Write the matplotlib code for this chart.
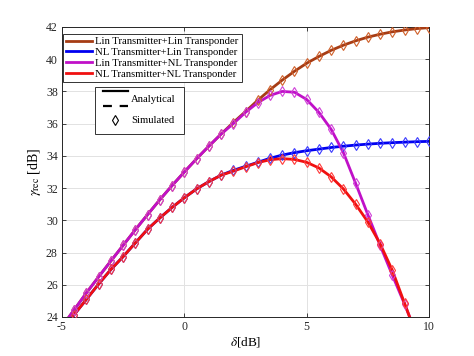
import numpy as np
import matplotlib
matplotlib.use("Agg")
import matplotlib.pyplot as plt
from matplotlib.lines import Line2D
from matplotlib.legend_handler import HandlerBase

plt.rcParams['font.family'] = ['Liberation Serif', 'DejaVu Serif']
plt.rcParams['mathtext.fontset'] = 'stix'
plt.rcParams['axes.unicode_minus'] = False

# delta [dB]
delta_db = [-5, -4.5, -4, -3.5, -3, -2.5, -2, -1.5, -1, -0.5,
            0, 0.5, 1, 1.5, 2, 2.5, 3, 3.5, 4, 4.5,
            5, 5.5, 6, 6.5, 7, 7.5, 8, 8.5, 9, 9.5, 10]

# gamma_rec [dB]
lin_lin = [23.4, 24.45, 25.5, 26.5, 27.48, 28.45, 29.42, 30.36, 31.28, 32.16,
           33.0, 33.82, 34.6, 35.35, 36.07, 36.75, 37.45, 38.1, 38.7, 39.25,
           39.75, 40.17, 40.55, 40.87, 41.14, 41.37, 41.55, 41.7, 41.81, 41.9, 41.96]
nl_lin = [23.15, 24.15, 25.1, 26.05, 26.95, 27.75, 28.6, 29.45, 30.15, 30.8,
          31.4, 31.95, 32.4, 32.8, 33.1, 33.35, 33.6, 33.85, 34.05, 34.2,
          34.32, 34.42, 34.52, 34.6, 34.67, 34.73, 34.78, 34.82, 34.85, 34.88, 34.9]
lin_nl = [23.4, 24.45, 25.5, 26.5, 27.48, 28.45, 29.42, 30.36, 31.28, 32.16,
          33.0, 33.82, 34.6, 35.35, 36.0, 36.7, 37.3, 37.75, 38.0, 37.95,
          37.5, 36.7, 35.65, 34.2, 32.3, 30.35, 28.45, 26.6, 24.8, 22.9, 21.0]
nl_nl = [23.15, 24.15, 25.1, 26.05, 26.95, 27.75, 28.6, 29.45, 30.15, 30.8,
         31.4, 31.95, 32.4, 32.8, 33.05, 33.32, 33.58, 33.76, 33.83, 33.78,
         33.6, 33.25, 32.7, 31.95, 31.0, 29.9, 28.55, 26.9, 24.85, 22.8, 20.5]

labels = ['Lin Transmitter+Lin Transponder', 'NL Transmitter+Lin Transponder',
          'Lin Transmitter+NL Transponder', 'NL Transmitter+NL Transponder']
series = [lin_lin, nl_lin, lin_nl, nl_nl]
line_colors = ['#a63c14', '#0000f0', '#c010c8', '#f01010']
mark_colors = ['#d0602a', '#3a3aff', '#d040d8', '#ff3a3a']


class HandlerTwoLines(HandlerBase):
    # solid line above, dashed line below, text in between
    def create_artists(self, legend, orig_handle, xdescent, ydescent,
                       width, height, fontsize, trans):
        y_top = height * 1.45
        y_bot = -height * 0.45
        l1 = Line2D([-xdescent, width - xdescent], [y_top, y_top], color='k', lw=1.6)
        l2 = Line2D([-xdescent, width - xdescent], [y_bot, y_bot], color='k', lw=1.6,
                    dashes=(4, 3.5))
        l1.set_transform(trans)
        l2.set_transform(trans)
        return [l1, l2]


fig = plt.figure(figsize=(4.74, 3.56), dpi=100)
ax = fig.add_axes([0.1308, 0.1096, 0.7743, 0.8146])

handles = []
for ys, lab, lc, mc in zip(series, labels, line_colors, mark_colors):
    h, = ax.plot(delta_db, ys, color=lc, lw=2.0, label=lab, zorder=3)
    ax.plot(delta_db, ys, ls='none', marker='d', ms=5, mfc='none', mec=mc,
            mew=0.8, zorder=4)
    handles.append(h)

ax.set_xlim(-5, 10)
ax.set_ylim(24, 42)
ax.set_xticks([-5, 0, 5, 10])
ax.set_yticks(np.arange(24, 43, 2))
ax.grid(True, color='#e2e2e2', lw=0.7)
ax.set_axisbelow(True)
ax.tick_params(direction='in', length=3, width=0.6, top=True, right=True,
               labelsize=8.5, colors='#262626', pad=3)
for s in ax.spines.values():
    s.set_color('#262626')
    s.set_linewidth(0.7)

ax.set_xlabel(r'$\delta$[dB]', fontsize=9.5, labelpad=1)
ax.set_ylabel(r'$\gamma_{\rm rec}$ [dB]', fontsize=10, labelpad=2)

leg1 = ax.legend(handles=handles, loc='upper left', bbox_to_anchor=(0.002, 0.977),
                 borderaxespad=0, fontsize=7.7, handlelength=2.4, handletextpad=0.35,
                 labelspacing=0.12, borderpad=0.3, fancybox=False, framealpha=1,
                 edgecolor='#333333')
leg1.get_frame().set_linewidth(0.7)
ax.add_artist(leg1)

ana = Line2D([], [], color='k')
sim = Line2D([], [], ls='none', marker='d', ms=5.5, mfc='none', mec='k', mew=0.8)
leg2 = ax.legend([ana, sim], ['Analytical', 'Simulated'], loc='upper left',
                 bbox_to_anchor=(0.09, 0.794), borderaxespad=0, fontsize=7.7,
                 handlelength=2.3, handletextpad=0.3, labelspacing=1.1,
                 borderpad=0.75, fancybox=False, framealpha=1, edgecolor='#333333',
                 handler_map={ana: HandlerTwoLines()})
leg2.get_frame().set_linewidth(0.7)

fig.savefig('out.png', dpi=100)
